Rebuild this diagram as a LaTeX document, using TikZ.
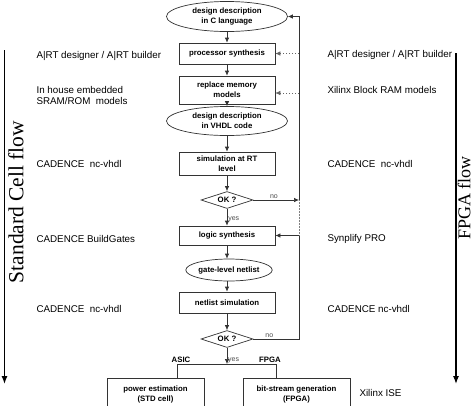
\documentclass[tikz,border=0pt]{standalone}
\usepackage{fontspec}
\setmainfont{Liberation Serif}
\newfontfamily\arial{Liberation Sans}
\usetikzlibrary{arrows.meta,shapes.geometric}

\tikzset{
  blocco/.style={draw, line width=0.7pt, black!80, text=black, align=center,
    inner sep=0pt, minimum width=96pt,
    font=\arial\bfseries\fontsize{7.8}{10}\selectfont},
  ovale/.style={blocco, ellipse, minimum width=121pt, minimum height=30pt},
  rombo/.style={blocco, diamond, aspect=3, minimum width=52pt, minimum height=17pt},
  freccia/.style={line width=0.7pt, black!80, -{Latex[length=5pt,width=4.5pt]}},
  filo/.style={line width=0.7pt, black!80},
  strumento/.style={anchor=west, align=left, font=\arial\fontsize{9.8}{11}\selectfont},
  piccolo/.style={font=\arial\fontsize{7}{8}\selectfont, text=black!70, inner sep=1pt},
  ramo/.style={font=\arial\bfseries\fontsize{7.8}{9}\selectfont, inner sep=1pt},
  flusso/.style={line width=1.2pt, -{Latex[length=8pt,width=6pt]}},
  titolo/.style={rotate=90, inner sep=0pt, font=\fontsize{21.5}{24}\selectfont}
}

\begin{document}
\begin{tikzpicture}[x=1pt,y=-1pt]
  \useasboundingbox (0,0) rectangle (474,405);

  % Blocchi
  \node[ovale] (descrC) at (227,16.5) {design description\\in C language};
  \node[blocco, minimum height=21pt] (sintProc) at (227,53.5) {processor synthesis};
  \node[blocco, minimum height=28pt] (memorie) at (227,90) {replace memory\\models};
  \node[ovale, minimum height=29pt] (descrVHDL) at (227,121) {design description\\in VHDL code};
  \node[blocco, minimum height=23pt] (simRT) at (227,163.5) {simulation at RT\\level};
  \node[rombo] (ok1) at (227,200) {OK ?};
  \node[blocco, minimum height=19pt] (sintLog) at (227,235.5) {logic synthesis};
  \node[ovale, minimum width=84pt, minimum height=22pt] (netlist) at (229,270) {gate-level netlist};
  \node[blocco, minimum height=21pt] (simNet) at (227,302.5) {netlist simulation};
  \node[rombo] (ok2) at (227,339) {OK ?};
  \node[blocco, minimum width=97pt, minimum height=32pt] (potenza) at (155.5,394) {power estimation\\(STD cell)};
  \node[blocco, minimum width=107pt, minimum height=32pt] (bitstream) at (296.5,394) {bit-stream generation\\(FPGA)};

  % Flusso principale
  \draw[freccia] (descrC) -- (sintProc);
  \draw[freccia] (sintProc) -- (memorie);
  \draw[freccia] (memorie) -- (descrVHDL);
  \draw[freccia] (descrVHDL) -- (simRT);
  \draw[freccia] (simRT) -- (ok1);
  \draw[freccia] (ok1) -- node[piccolo, right, pos=0.65] {yes} (sintLog);
  \draw[freccia] (sintLog) -- (netlist.north -| sintLog);
  \draw[freccia] (netlist.south -| simNet) -- (simNet);
  \draw[freccia] (simNet) -- (ok2);

  % Ritorni
  \coordinate (linea) at (299,0);
  \draw[freccia] (ok1.east) -- node[piccolo, above, pos=0.45] {no} (ok1.east -| linea);
  \draw[freccia] (ok1.east -| linea) |- (descrC.east);
  \draw[filo] (ok2.east) -- node[piccolo, above, pos=0.35] {no} (ok2.east -| linea) -- (sintLog.east -| linea);
  \draw[freccia] (sintLog.east -| linea) -- (sintLog.east);
  \draw[black!50, line width=0.5pt, densely dotted] (ok1.east -| linea) -- (sintLog.east -| linea);
  \draw[freccia, black!60, line width=0.5pt, dash pattern=on 1.5pt off 1.5pt] (sintProc.east -| linea) -- (sintProc.east);
  \draw[freccia, black!60, line width=0.5pt, dash pattern=on 1.5pt off 1.5pt] ([yshift=-3pt]memorie.east -| linea) -- ([yshift=-3pt]memorie.east);

  % Biforcazione
  \coordinate (bivio) at (227,364);
  \coordinate (asic) at (177,364);
  \coordinate (fpga) at (276,364);
  \draw[freccia] (ok2) -- (bivio);
  \node[piccolo, above right] at (bivio) {yes};
  \draw[filo] (asic) -- (fpga);
  \draw[filo] (asic) -- (asic |- potenza.north);
  \draw[filo] (fpga) -- (fpga |- bitstream.north);
  \node[ramo, above, xshift=4pt] at (asic) {ASIC};
  \node[ramo, above, xshift=-6pt] at (fpga) {FPGA};

  % Strumenti a sinistra
  \node[strumento] (artSx) at (33,56) {A|RT designer / A|RT builder};
  \node[strumento] (sram) at (33,95.5) {In house embedded\\SRAM/ROM\ \ models};
  \node[strumento] (ncSx1) at (33,164) {CADENCE\ \ nc-vhdl};
  \node[strumento] (bgates) at (33,239) {CADENCE BuildGates};
  \node[strumento] (ncSx2) at (33,309) {CADENCE\ \ nc-vhdl};

  % Strumenti a destra
  \node[strumento] (artDx) at (324,55) {A|RT designer / A|RT builder};
  \node[strumento] (bram) at (324,90) {Xilinx Block RAM models};
  \node[strumento] (ncDx1) at (324,164) {CADENCE\ \ nc-vhdl};
  \node[strumento] (synp) at (324,239) {Synplify PRO};
  \node[strumento] (ncDx2) at (324,309) {CADENCE nc-vhdl};
  \node[strumento] (ise) at (356,393) {Xilinx ISE};

  % Frecce dei flussi
  \coordinate (scAlto) at (4.5,50);
  \coordinate (scBasso) at (4.5,384);
  \draw[flusso] (scAlto) -- (scBasso);
  \node[titolo] (sc) at (16,202) {Standard Cell flow};
  \coordinate (fpAlto) at (456,53);
  \coordinate (fpBasso) at (456,384);
  \draw[flusso] (fpAlto) -- (fpBasso);
  \node[titolo, font=\fontsize{18}{20}\selectfont] (fp) at (464,198) {FPGA flow};
\end{tikzpicture}
\end{document}
